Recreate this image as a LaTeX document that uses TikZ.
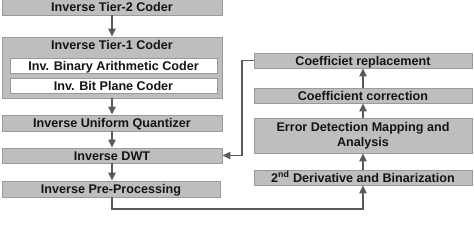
\documentclass[tikz,border=0pt]{standalone}
\usepackage{fontspec}
\setmainfont{Liberation Sans}
\usetikzlibrary{arrows.meta}
\definecolor{boxfill}{HTML}{BEBEBE}
\definecolor{boxline}{HTML}{9A9A9A}
\definecolor{arrowc}{HTML}{5A5A5A}
\definecolor{txt}{HTML}{141414}
\tikzset{
  gbox/.style={draw=boxline, fill=boxfill, line width=0.9pt, inner sep=0pt, text=txt,
    font=\fontsize{12.6}{15.5}\selectfont\bfseries, align=center},
  sbox/.style={gbox, text height=9pt, text depth=0pt},
  wbox/.style={sbox, fill=white},
  lbl/.style={inner sep=0pt, text=txt, text height=9pt, text depth=0pt, font=\fontsize{12.6}{15.5}\selectfont\bfseries},
  conn/.style={draw=arrowc, line width=1.3pt},
  arr/.style={conn, -{Triangle[length=8pt,width=7.5pt]}}
}
\begin{document}
\begin{tikzpicture}[x=1pt,y=-1pt]
\useasboundingbox (0,0) rectangle (474,228);
% left column
\node[sbox, minimum width=220pt, minimum height=16pt] (t2) at (112,7) {Inverse Tier-2 Coder};
\node[gbox, minimum width=220pt, minimum height=61pt] (t1) at (112,67.5) {};
\node[lbl] (t1l) at (112,44.5) {Inverse Tier-1 Coder};
\node[wbox, minimum width=207pt, minimum height=15pt] (bac) at (113.5,65.5) {Inv. Binary Arithmetic Coder};
\node[wbox, minimum width=207pt, minimum height=15pt] (bpc) at (113.5,85.5) {Inv. Bit Plane Coder};
\node[sbox, minimum width=220pt, minimum height=16pt] (iuq) at (112,123) {Inverse Uniform Quantizer};
\node[sbox, minimum width=220pt, minimum height=15pt] (dwt) at (112,155.5) {Inverse DWT};
\node[sbox, minimum width=218pt, minimum height=16pt] (ipp) at (111,189) {Inverse Pre-Processing};
% right column
\node[sbox, minimum width=218pt, minimum height=15pt] (cr) at (363,60.5) {Coefficiet replacement};
\node[sbox, minimum width=218pt, minimum height=15pt] (cc) at (363,95.5) {Coefficient correction};
\node[gbox, minimum width=218pt, minimum height=35pt] (ed) at (363,135.5) {Error Detection Mapping and\\Analysis};
\node[sbox, minimum width=218pt, minimum height=15pt] (der) at (363,177.5) {2\textsuperscript{nd} Derivative and Binarization};
% connectors
\coordinate (c1) at (112,209);
\coordinate (c2) at (242,60.5);
\draw[arr] (t2.south -| t1.north) -- (t1.north);
\draw[arr] (t1.south) -- (iuq.north);
\draw[arr] (iuq.south) -- (dwt.north);
\draw[arr] (dwt.south) -- (dwt.south |- ipp.north);
\draw[arr] (ipp.south -| c1) -- (c1) -| (der.south);
\draw[arr] (der.north) -- (ed.south);
\draw[arr] (ed.north) -- (cc.south);
\draw[arr] (cc.north) -- (cr.south);
\draw[arr] (cr.west) -- (c2) |- (dwt.east);
\end{tikzpicture}
\end{document}
